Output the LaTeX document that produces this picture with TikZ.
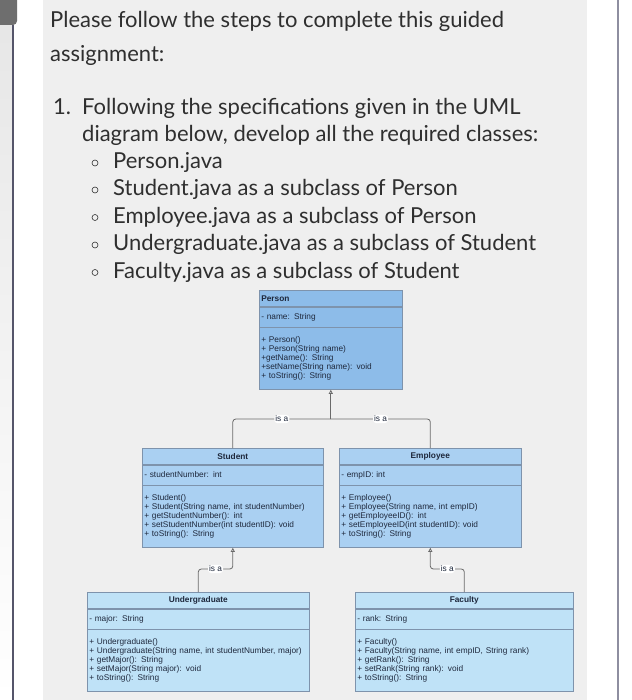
\documentclass[tikz,border=0pt]{standalone}
\usepackage{fontspec}
\setmainfont{Lato}
\newfontfamily\umlfont{Liberation Sans}
\usetikzlibrary{arrows.meta,positioning}

\definecolor{panelgray}{HTML}{EFEFEF}
\definecolor{leftgray}{HTML}{E6E6E6}
\definecolor{tabgray}{HTML}{6E6E6E}
\definecolor{rulegray}{HTML}{55556A}
\definecolor{ruleblue}{HTML}{8E8EA0}
\definecolor{bodytext}{HTML}{2F2F2F}
\definecolor{umlline}{HTML}{7E93AC}
\definecolor{umltext}{HTML}{1E283C}
\definecolor{persfill}{HTML}{8DBCE9}
\definecolor{midfill}{HTML}{AAD0F2}
\definecolor{lowfill}{HTML}{BFE2F7}
\definecolor{linkgray}{HTML}{6A6A6A}

\begin{document}
\begin{tikzpicture}[
  x=1pt, y=-1pt,
  >={Triangle[open, length=4pt, width=4pt]},
  para/.style={anchor=base west, inner sep=0pt, text=bodytext,
    font=\fontsize{22}{26}\selectfont},
  bul/.style={circle, draw=bodytext, line width=0.6pt,
    minimum size=6pt, inner sep=0pt},
  ctitle/.style={
    draw=umlline, line width=0.6pt, minimum height=16pt,
    inner xsep=2pt, inner ysep=0pt, align=center, text=umltext,
    font=\umlfont\bfseries\fontsize{8.3}{9}\selectfont
  },
  cattr/.style={
    draw=umlline, line width=0.6pt, minimum height=20pt,
    inner xsep=2pt, inner ysep=0pt, align=left, text=umltext,
    font=\umlfont\fontsize{8.3}{9}\selectfont
  },
  cmeth/.style={cattr, minimum height=62pt},
  link/.style={draw=linkgray, line width=0.8pt, rounded corners=3pt},
  isalbl/.style={fill=white, inner sep=1pt, text=umltext,
    font=\umlfont\fontsize{8.3}{9}\selectfont}
]

\useasboundingbox (0,0) rectangle (631,700);

% -- Fundo da pagina --
\fill[white] (0,0) rectangle (631,700);
\shade[top color=leftgray, bottom color=white] (0,0) rectangle (13,700);
\fill[panelgray] (43,0) rectangle (587,700);
\fill[tabgray, rounded corners=4pt] (-6,-6) rectangle (17,25);
\draw[rulegray, line width=1.2pt] (13,25) -- (13,700);
\draw[ruleblue, line width=2pt] (618,0) -- (618,700);

% -- Enunciado --
\node[para] (intro1) at (50,28) {Please follow the steps to complete this guided};
\node[para] (intro2) at (50,62) {assignment:};
\node[para] (num)    at (53,115) {1.};
\node[para] (step1)  at (82,115) {Following the specifications given in the UML};
\node[para] (step2)  at (82,142) {diagram below, develop all the required classes:};

\node[bul] (b1) at (95,163) {};
\node[para] (f1) at (113,169) {Person.java};
\node[bul] (b2) at (95,190) {};
\node[para] (f2) at (113,196) {Student.java as a subclass of Person};
\node[bul] (b3) at (95,217.5) {};
\node[para] (f3) at (113,223.5) {Employee.java as a subclass of Person};
\node[bul] (b4) at (95,245) {};
\node[para] (f4) at (113,251) {Undergraduate.java as a subclass of Student};
\node[bul] (b5) at (95,272.5) {};
\node[para] (f5) at (113,278.5) {Faculty.java as a subclass of Student};

% -- Classe Person --
\node[ctitle, fill=persfill, text width=139pt, align=left, anchor=north west]
  (personT) at (259,290) {Person};
\node[cattr, fill=persfill, text width=139pt, below=0pt of personT]
  (personA) {- name: String};
\node[cmeth, fill=persfill, text width=139pt, below=0pt of personA]
  (personM) {+ Person()\\+ Person(String name)\\+getName(): String\\
  +setName(String name): void\\+ toString(): String};

% -- Classe Student --
\node[ctitle, fill=midfill, text width=177pt, anchor=north west]
  (studentT) at (142,448) {Student};
\node[cattr, fill=midfill, text width=177pt, below=0pt of studentT]
  (studentA) {- studentNumber: int};
\node[cmeth, fill=midfill, text width=177pt, below=0pt of studentA]
  (studentM) {+ Student()\\+ Student(String name, int studentNumber)\\
  + getStudentNumber(): int\\+ setStudentNumber(int studentID): void\\
  + toString(): String};

% -- Classe Employee --
\node[ctitle, fill=midfill, text width=178pt, anchor=north west]
  (employeeT) at (339,448) {Employee};
\node[cattr, fill=midfill, text width=178pt, below=0pt of employeeT]
  (employeeA) {- empID: int};
\node[cmeth, fill=midfill, text width=178pt, below=0pt of employeeA]
  (employeeM) {+ Employee()\\+ Employee(String name, int empID)\\
  + getEmployeeID(): int\\+ setEmployeeID(int studentID): void\\
  + toString(): String};

% -- Classe Undergraduate --
\node[ctitle, fill=lowfill, text width=218pt, anchor=north west]
  (ugradT) at (87,592) {Undergraduate};
\node[cattr, fill=lowfill, text width=218pt, below=0pt of ugradT]
  (ugradA) {- major: String};
\node[cmeth, fill=lowfill, text width=218pt, below=0pt of ugradA]
  (ugradM) {+ Undergraduate()\\
  + Undergraduate(String name, int studentNumber, major)\\
  + getMajor(): String\\+ setMajor(String major): void\\+ toString(): String};

% -- Classe Faculty --
\node[ctitle, fill=lowfill, text width=214pt, anchor=north west]
  (facultyT) at (355,592) {Faculty};
\node[cattr, fill=lowfill, text width=214pt, below=0pt of facultyT]
  (facultyA) {- rank: String};
\node[cmeth, fill=lowfill, text width=214pt, below=0pt of facultyA]
  (facultyM) {+ Faculty()\\+ Faculty(String name, int empID, String rank)\\
  + getRank(): String\\+ setRank(String rank): void\\+ toString(): String};

% -- Heranca --
\coordinate (j1) at (personM.south |- 0,419);
\coordinate (k1) at (studentM.south |- 0,569);
\coordinate (k2) at (employeeM.south |- 0,569);

\draw[link, ->] (j1) -- (personM.south);
\draw[link] (studentT.north)  |- node[isalbl, pos=0.75]{is a} (j1);
\draw[link] (employeeT.north) |- node[isalbl, pos=0.75]{is a} (j1);

\draw[link, ->] (ugradT.north)   |- node[isalbl, pos=0.75]{is a} (k1) -- (studentM.south);
\draw[link, ->] (facultyT.north) |- node[isalbl, pos=0.75]{is a} (k2) -- (employeeM.south);

\end{tikzpicture}
\end{document}
